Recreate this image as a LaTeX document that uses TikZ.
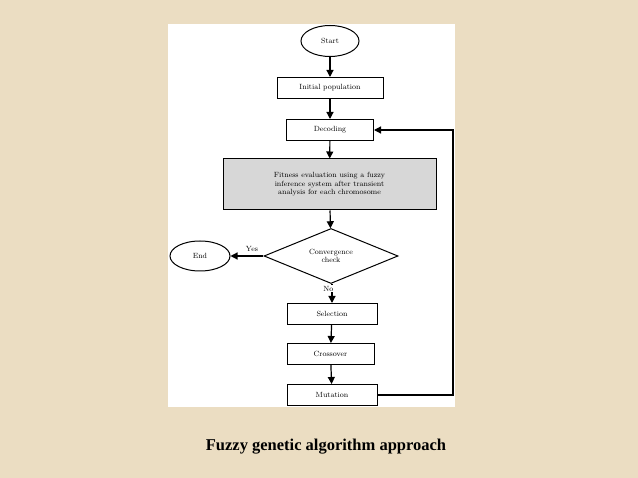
\documentclass[tikz,border=0pt]{standalone}
\usepackage{fontspec}
\newfontfamily\capfont{Liberation Serif}
\usetikzlibrary{shapes.geometric,arrows.meta}
\begin{document}
\begin{tikzpicture}[x=1pt,y=-1pt,
  box/.style={draw,line width=1pt,minimum height=21pt,inner sep=1pt,font=\fontsize{7.5}{8.5}\selectfont},
  ell/.style={draw,line width=1pt,ellipse,minimum width=58pt,minimum height=31pt,inner sep=0pt,font=\fontsize{7.5}{8.5}\selectfont},
  arr/.style={line width=1.2pt,-{Triangle[length=7pt,width=7pt]}},
  lbl/.style={font=\fontsize{7.5}{8.5}\selectfont}]
\useasboundingbox (0,0) rectangle (638,478);
\fill[fill={rgb,255:red,235;green,221;blue,194}] (0,0) rectangle (638,478);
\fill[white] (168,24) rectangle (455,407);
\node[ell] (start) at (330,41) {Start};
\node[box,minimum width=106pt] (init) at (330,88) {Initial population};
\node[box,minimum width=87pt] (dec) at (330,130) {Decoding};
\node[box,minimum width=213pt,minimum height=51pt,fill={rgb,255:red,215;green,215;blue,215},align=center] (fit) at (329.5,184.5) {Fitness evaluation using a fuzzy\\inference system after transient\\analysis for each chromosome};
\node[draw,line width=1pt,diamond,aspect=2.45,minimum width=134pt,minimum height=55pt,inner sep=0pt,align=center,font=\fontsize{7.5}{8.5}\selectfont] (conv) at (331,256) {Convergence\\check};
\node[ell,minimum width=60pt,minimum height=30pt] (end) at (200,256) {End};
\node[box,minimum width=90pt] (sel) at (332,314) {Selection};
\node[box,minimum width=87pt] (cro) at (330.5,354) {Crossover};
\node[box,minimum width=90pt] (mut) at (332,395) {Mutation};
\draw[arr] (start) -- (init);
\draw[arr] (init) -- (dec);
\draw[arr] (dec) -- (fit);
\draw[arr] (fit) -- (conv);
\draw[arr] (conv) -- node[lbl,above,pos=0.35]{Yes} (end);
\draw[arr] (conv.south -| sel) -- node[lbl,pos=0.25,left=-3pt,fill=white,inner sep=1pt]{No} (sel);
\draw[arr] (sel) -- (cro);
\draw[arr] (cro) -- (mut);
\coordinate (c1) at (453,395);
\coordinate (c2) at (453,130);
\draw[arr] (mut.east) -- (c1) -- (c2) -- (dec.east);
\node[font=\capfont\bfseries\fontsize{16.5}{18}\selectfont] (cap) at (326,447) {Fuzzy genetic algorithm approach};
\end{tikzpicture}
\end{document}
